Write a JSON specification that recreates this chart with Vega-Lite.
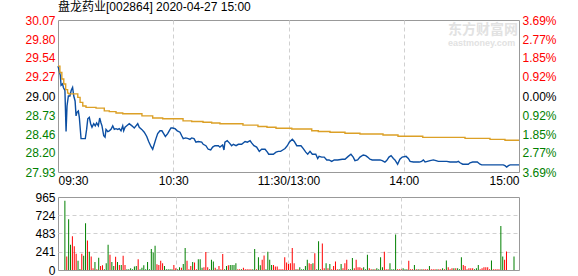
{
 "$schema": "https://vega.github.io/schema/vega-lite/v6.json",
 "padding": {"left": 24, "top": 0, "right": 5, "bottom": 0},
 "background": "white",
 "spacing": 3,
 "config": {
   "view": {"stroke": "#999999", "strokeWidth": 1},
   "font": "Liberation Sans, Noto Sans CJK SC",
   "axis": {"labelFont": "Liberation Sans", "labelFontSize": 12, "ticks": false, "domain": false, "title": null, "gridColor": "#d0d0d0", "gridDash": [4, 3], "labelPadding": 3, "labelOverlap": false}
 },
 "vconcat": [
  {
   "width": 461,
   "height": 152,
   "title": {"text": "盘龙药业[002864] 2020-04-27 15:00", "anchor": "start", "frame": "group", "fontSize": 12, "fontWeight": "normal", "font": "Liberation Sans, Noto Sans CJK SC", "color": "#000000", "offset": 0},
   "layer": [
     {
       "data": {"values": [{"m": 203, "p": 29.93, "t": "东方财富网"}]},
       "mark": {"type": "text", "align": "left", "baseline": "middle", "fontSize": 14, "fontWeight": "bold", "color": "#e2e2e2", "font": "Noto Sans CJK SC"},
       "encoding": {
         "x": {"field": "m", "type": "quantitative", "scale": {"domain": [0, 240]}, "axis": {"values": [0, 60, 120, 180, 240], "labelExpr": "datum.value==0?'09:30':datum.value==60?'10:30':datum.value==120?'11:30/13:00':datum.value==180?'14:00':'15:00'", "labelFlush": true, "labelColor": "#000000", "gridOpacity": {"condition": {"test": "datum.value==0||datum.value==240", "value": 0}, "value": 1}}},
         "y": {"field": "p", "type": "quantitative", "scale": {"domain": [27.93, 30.07], "zero": false}, "axis": null},
         "text": {"field": "t"}
       }
     },
     {
       "data": {"values": [{"m": 203, "p": 29.75, "t": "eastmoney.com"}]},
       "mark": {"type": "text", "align": "left", "baseline": "middle", "fontSize": 9, "fontWeight": "bold", "color": "#e2e2e2"},
       "encoding": {
         "x": {"field": "m", "type": "quantitative", "scale": {"domain": [0, 240]}, "axis": {"values": [0, 60, 120, 180, 240], "labelExpr": "datum.value==0?'09:30':datum.value==60?'10:30':datum.value==120?'11:30/13:00':datum.value==180?'14:00':'15:00'", "labelFlush": true, "labelColor": "#000000", "gridOpacity": {"condition": {"test": "datum.value==0||datum.value==240", "value": 0}, "value": 1}}},
         "y": {"field": "p", "type": "quantitative", "scale": {"domain": [27.93, 30.07], "zero": false}, "axis": null},
         "text": {"field": "t"}
       }
     },
     {
       "data": {"values": [
{"m":0,"p":29.42},{"m":1.2,"p":29.29},{"m":1.6,"p":29.15},{"m":2.4,"p":29.17},{"m":2.8,"p":29.12},{"m":3.6,"p":29.08},{"m":4.2,"p":28.50},{"m":4.7,"p":28.86},{"m":5.4,"p":29.00},{"m":6.2,"p":29.00},{"m":6.9,"p":29.08},{"m":7.6,"p":29.12},{"m":8.2,"p":29.00},{"m":8.9,"p":28.93},{"m":9.4,"p":28.72},{"m":9.9,"p":28.77},{"m":10.6,"p":28.79},{"m":11.1,"p":28.70},{"m":12.0,"p":28.40},{"m":14.2,"p":28.40},{"m":14.9,"p":28.53},{"m":15.5,"p":28.68},{"m":16.3,"p":28.70},{"m":17.0,"p":28.61},{"m":17.7,"p":28.56},{"m":18.6,"p":28.61},{"m":19.4,"p":28.58},{"m":20.1,"p":28.62},{"m":21.0,"p":28.58},{"m":21.7,"p":28.69},{"m":22.4,"p":28.62},{"m":22.9,"p":28.58},{"m":23.8,"p":28.44},{"m":24.5,"p":28.42},{"m":25.0,"p":28.53},{"m":25.9,"p":28.50},{"m":26.7,"p":28.51},{"m":27.6,"p":28.53},{"m":28.5,"p":28.58},{"m":29.3,"p":28.53},{"m":30.2,"p":28.54},{"m":31.1,"p":28.53},{"m":31.9,"p":28.54},{"m":32.8,"p":28.51},{"m":33.7,"p":28.58},{"m":34.2,"p":28.51},{"m":34.9,"p":28.56},{"m":35.8,"p":28.58},{"m":37.1,"p":28.61},{"m":38.5,"p":28.58},{"m":39.7,"p":28.55},{"m":40.6,"p":28.58},{"m":41.5,"p":28.61},{"m":42.3,"p":28.56},{"m":43.6,"p":28.53},{"m":44.9,"p":28.49},{"m":46.2,"p":28.43},{"m":47.2,"p":28.36},{"m":48.4,"p":28.29},{"m":49.3,"p":28.25},{"m":50.1,"p":28.32},{"m":51.0,"p":28.40},{"m":51.9,"p":28.47},{"m":53.1,"p":28.51},{"m":54.1,"p":28.51},{"m":55.0,"p":28.47},{"m":55.9,"p":28.43},{"m":57.1,"p":28.47},{"m":57.9,"p":28.51},{"m":58.8,"p":28.55},{"m":59.7,"p":28.55},{"m":60.9,"p":28.54},{"m":62.1,"p":28.51},{"m":63.5,"p":28.49},{"m":64.4,"p":28.44},{"m":65.2,"p":28.40},{"m":66.5,"p":28.41},{"m":67.8,"p":28.40},{"m":68.7,"p":28.39},{"m":69.6,"p":28.41},{"m":70.8,"p":28.40},{"m":71.8,"p":28.35},{"m":73.0,"p":28.36},{"m":74.8,"p":28.35},{"m":75.6,"p":28.32},{"m":77.0,"p":28.30},{"m":78.2,"p":28.25},{"m":79.5,"p":28.24},{"m":80.5,"p":28.28},{"m":81.7,"p":28.30},{"m":83.5,"p":28.30},{"m":84.3,"p":28.28},{"m":85.7,"p":28.31},{"m":86.4,"p":28.24},{"m":86.9,"p":28.35},{"m":88.1,"p":28.37},{"m":89.2,"p":28.34},{"m":90.4,"p":28.30},{"m":91.3,"p":28.32},{"m":92.7,"p":28.30},{"m":93.9,"p":28.32},{"m":95.6,"p":28.32},{"m":97.4,"p":28.36},{"m":98.6,"p":28.35},{"m":100.0,"p":28.37},{"m":100.8,"p":28.34},{"m":102.0,"p":28.30},{"m":103.4,"p":28.28},{"m":104.8,"p":28.22},{"m":106.0,"p":28.25},{"m":107.8,"p":28.25},{"m":109.0,"p":28.21},{"m":109.7,"p":28.18},{"m":112.1,"p":28.18},{"m":113.5,"p":28.21},{"m":114.7,"p":28.22},{"m":115.9,"p":28.22},{"m":117.0,"p":28.24},{"m":118.2,"p":28.26},{"m":119.4,"p":28.30},{"m":120.4,"p":28.35},{"m":122.0,"p":28.39},{"m":123.0,"p":28.36},{"m":124.3,"p":28.30},{"m":126.5,"p":28.30},{"m":127.7,"p":28.26},{"m":129.0,"p":28.21},{"m":130.0,"p":28.18},{"m":131.2,"p":28.22},{"m":132.4,"p":28.18},{"m":134.2,"p":28.18},{"m":135.2,"p":28.12},{"m":135.9,"p":28.15},{"m":137.3,"p":28.14},{"m":138.6,"p":28.14},{"m":139.9,"p":28.10},{"m":141.1,"p":28.10},{"m":142.5,"p":28.08},{"m":143.8,"p":28.10},{"m":145.6,"p":28.10},{"m":148.0,"p":28.11},{"m":149.4,"p":28.11},{"m":151.1,"p":28.15},{"m":152.5,"p":28.18},{"m":153.7,"p":28.14},{"m":154.6,"p":28.09},{"m":156.0,"p":28.10},{"m":157.2,"p":28.14},{"m":158.9,"p":28.17},{"m":160.2,"p":28.16},{"m":161.2,"p":28.14},{"m":162.4,"p":28.11},{"m":163.6,"p":28.10},{"m":165.4,"p":28.10},{"m":166.4,"p":28.10},{"m":167.6,"p":28.10},{"m":168.8,"p":28.09},{"m":170.2,"p":28.07},{"m":171.1,"p":28.09},{"m":172.3,"p":28.14},{"m":173.4,"p":28.16},{"m":174.6,"p":28.12},{"m":175.4,"p":28.10},{"m":176.8,"p":28.04},{"m":178.0,"p":28.11},{"m":179.2,"p":28.14},{"m":181.2,"p":28.15},{"m":182.4,"p":28.12},{"m":183.3,"p":28.08},{"m":185.0,"p":28.07},{"m":186.7,"p":28.07},{"m":188.1,"p":28.07},{"m":189.3,"p":28.08},{"m":190.2,"p":28.10},{"m":191.1,"p":28.07},{"m":192.3,"p":28.08},{"m":193.7,"p":28.09},{"m":195.4,"p":28.10},{"m":196.8,"p":28.09},{"m":198.0,"p":28.08},{"m":199.8,"p":28.08},{"m":200.6,"p":28.08},{"m":202.4,"p":28.08},{"m":204.1,"p":28.07},{"m":205.8,"p":28.07},{"m":207.6,"p":28.07},{"m":208.4,"p":28.08},{"m":209.3,"p":28.06},{"m":210.7,"p":28.04},{"m":213.6,"p":28.04},{"m":214.5,"p":28.06},{"m":215.9,"p":28.07},{"m":218.3,"p":28.07},{"m":219.7,"p":28.04},{"m":220.6,"p":28.03},{"m":222.3,"p":28.03},{"m":231.8,"p":28.03},{"m":232.7,"p":28.02},{"m":233.6,"p":28.00},{"m":234.5,"p":28.02},{"m":235.4,"p":28.03},{"m":238.8,"p":28.03},{"m":240,"p":28.03}
       ]},
       "mark": {"type": "line", "color": "#0b4ea2", "strokeWidth": 1.4},
       "encoding": {
         "x": {"field": "m", "type": "quantitative", "scale": {"domain": [0, 240]}, "axis": {"values": [0, 60, 120, 180, 240], "labelExpr": "datum.value==0?'09:30':datum.value==60?'10:30':datum.value==120?'11:30/13:00':datum.value==180?'14:00':'15:00'", "labelFlush": true, "labelColor": "#000000", "gridOpacity": {"condition": {"test": "datum.value==0||datum.value==240", "value": 0}, "value": 1}}},
         "y": {"field": "p", "type": "quantitative", "scale": {"domain": [27.93, 30.07], "zero": false}, "axis": {"orient": "left", "values": [27.93, 28.20, 28.46, 28.73, 29.00, 29.27, 29.54, 29.80, 30.07], "format": ".2f", "labelColor": {"condition": [{"test": "datum.value>29.001", "value": "#ff0000"}, {"test": "datum.value<28.999", "value": "#008000"}], "value": "#000000"}, "gridOpacity": {"condition": {"test": "datum.value<27.94||datum.value>30.06", "value": 0}, "value": 1}}}
       }
     },
     {
       "data": {"values": [
{"m":0,"a":29.42},{"m":1,"a":29.33},{"m":2,"a":29.24},{"m":3,"a":29.17},{"m":4,"a":29.09},{"m":5,"a":29.04},{"m":5.6,"a":29.03},{"m":10.3,"a":28.98},{"m":11.5,"a":28.91},{"m":12.9,"a":28.86},{"m":14.6,"a":28.84},{"m":19.8,"a":28.83},{"m":24.1,"a":28.79},{"m":26.7,"a":28.78},{"m":30.2,"a":28.76},{"m":33.7,"a":28.75},{"m":43.7,"a":28.72},{"m":49.3,"a":28.69},{"m":54.5,"a":28.68},{"m":65.1,"a":28.65},{"m":69.6,"a":28.64},{"m":75.5,"a":28.63},{"m":80.0,"a":28.62},{"m":84.3,"a":28.61},{"m":96.3,"a":28.59},{"m":104.1,"a":28.57},{"m":108.8,"a":28.56},{"m":113.5,"a":28.545},{"m":121.7,"a":28.535},{"m":132.1,"a":28.51},{"m":135.5,"a":28.50},{"m":141.6,"a":28.49},{"m":149.4,"a":28.475},{"m":157.2,"a":28.465},{"m":169.2,"a":28.45},{"m":177,"a":28.433},{"m":189.9,"a":28.418},{"m":211.9,"a":28.404},{"m":224.9,"a":28.39},{"m":232.7,"a":28.376},{"m":240,"a":28.376}
       ]},
       "mark": {"type": "line", "color": "#dca026", "strokeWidth": 1.4, "interpolate": "step-after"},
       "encoding": {
         "x": {"field": "m", "type": "quantitative", "scale": {"domain": [0, 240]}, "axis": {"values": [0, 60, 120, 180, 240], "labelExpr": "datum.value==0?'09:30':datum.value==60?'10:30':datum.value==120?'11:30/13:00':datum.value==180?'14:00':'15:00'", "labelFlush": true, "labelColor": "#000000", "gridOpacity": {"condition": {"test": "datum.value==0||datum.value==240", "value": 0}, "value": 1}}},
         "y": {"field": "a", "type": "quantitative", "scale": {"domain": [27.93, 30.07], "zero": false}, "axis": {"orient": "right", "grid": false, "values": [27.93, 28.20, 28.46, 28.73, 29.00, 29.27, 29.54, 29.80, 30.07], "labelExpr": "format(abs(round((datum.value-29)/0.2675))*0.9225+0.00001, '.2f') + '%'", "labelColor": {"condition": [{"test": "datum.value>29.001", "value": "#ff0000"}, {"test": "datum.value<28.999", "value": "#008000"}], "value": "#000000"}}}
       }
     }
   ],
   "resolve": {"axis": {"y": "independent"}}
  },
  {
   "width": 461,
   "height": 73,
   "data": {"values": [
{"m":1,"v":916,"d":"g"},{"m":2,"v":179,"d":"r"},{"m":3,"v":670,"d":"g"},{"m":4,"v":335,"d":"g"},{"m":5,"v":447,"d":"r"},{"m":6,"v":313,"d":"r"},{"m":7,"v":215,"d":"r"},{"m":8,"v":121,"d":"g"},{"m":9,"v":13,"d":"g"},{"m":10,"v":215,"d":"r"},{"m":11,"v":188,"d":"g"},{"m":12,"v":617,"d":"g"},{"m":13,"v":389,"d":"r"},{"m":14,"v":241,"d":"g"},{"m":15,"v":179,"d":"r"},{"m":16,"v":22,"d":"r"},{"m":17,"v":107,"d":"g"},{"m":18,"v":9,"d":"r"},{"m":19,"v":161,"d":"g"},{"m":20,"v":54,"d":"r"},{"m":21,"v":63,"d":"r"},{"m":22,"v":9,"d":"g"},{"m":23,"v":89,"d":"g"},{"m":24,"v":335,"d":"g"},{"m":25,"v":201,"d":"r"},{"m":26,"v":107,"d":"g"},{"m":27,"v":54,"d":"g"},{"m":28,"v":174,"d":"r"},{"m":29,"v":107,"d":"g"},{"m":30,"v":67,"d":"r"},{"m":31,"v":67,"d":"g"},{"m":32,"v":188,"d":"r"},{"m":33,"v":67,"d":"r"},{"m":34,"v":9,"d":"g"},{"m":35,"v":9,"d":"g"},{"m":36,"v":22,"d":"g"},{"m":37,"v":9,"d":"g"},{"m":38,"v":45,"d":"g"},{"m":39,"v":54,"d":"g"},{"m":40,"v":143,"d":"r"},{"m":41,"v":9,"d":"g"},{"m":42,"v":31,"d":"g"},{"m":43,"v":63,"d":"g"},{"m":44,"v":9,"d":"g"},{"m":45,"v":107,"d":"g"},{"m":46,"v":9,"d":"g"},{"m":47,"v":277,"d":"g"},{"m":48,"v":232,"d":"g"},{"m":49,"v":322,"d":"g"},{"m":50,"v":76,"d":"r"},{"m":51,"v":67,"d":"r"},{"m":52,"v":121,"d":"r"},{"m":53,"v":89,"d":"r"},{"m":54,"v":54,"d":"g"},{"m":55,"v":9,"d":"g"},{"m":56,"v":9,"d":"g"},{"m":57,"v":9,"d":"g"},{"m":58,"v":9,"d":"g"},{"m":59,"v":67,"d":"r"},{"m":60,"v":22,"d":"r"},{"m":61,"v":9,"d":"g"},{"m":62,"v":36,"d":"g"},{"m":63,"v":31,"d":"r"},{"m":64,"v":80,"d":"g"},{"m":65,"v":290,"d":"g"},{"m":66,"v":121,"d":"r"},{"m":67,"v":9,"d":"r"},{"m":68,"v":54,"d":"r"},{"m":69,"v":107,"d":"g"},{"m":70,"v":98,"d":"r"},{"m":71,"v":9,"d":"r"},{"m":72,"v":143,"d":"g"},{"m":73,"v":143,"d":"g"},{"m":74,"v":31,"d":"g"},{"m":75,"v":36,"d":"r"},{"m":76,"v":237,"d":"r"},{"m":77,"v":36,"d":"r"},{"m":78,"v":9,"d":"g"},{"m":79,"v":134,"d":"g"},{"m":80,"v":112,"d":"g"},{"m":81,"v":31,"d":"r"},{"m":82,"v":9,"d":"g"},{"m":83,"v":54,"d":"r"},{"m":84,"v":9,"d":"r"},{"m":85,"v":210,"d":"r"},{"m":86,"v":9,"d":"g"},{"m":87,"v":54,"d":"g"},{"m":88,"v":63,"d":"r"},{"m":89,"v":67,"d":"g"},{"m":90,"v":67,"d":"g"},{"m":91,"v":67,"d":"g"},{"m":92,"v":89,"d":"g"},{"m":93,"v":9,"d":"r"},{"m":94,"v":9,"d":"r"},{"m":95,"v":9,"d":"g"},{"m":96,"v":31,"d":"r"},{"m":97,"v":9,"d":"r"},{"m":98,"v":9,"d":"r"},{"m":99,"v":9,"d":"r"},{"m":100,"v":9,"d":"r"},{"m":101,"v":9,"d":"g"},{"m":102,"v":277,"d":"g"},{"m":103,"v":9,"d":"r"},{"m":104,"v":170,"d":"g"},{"m":105,"v":63,"d":"g"},{"m":106,"v":134,"d":"r"},{"m":107,"v":192,"d":"r"},{"m":108,"v":9,"d":"g"},{"m":109,"v":241,"d":"g"},{"m":110,"v":134,"d":"g"},{"m":111,"v":67,"d":"g"},{"m":112,"v":67,"d":"r"},{"m":113,"v":45,"d":"r"},{"m":114,"v":45,"d":"r"},{"m":115,"v":9,"d":"r"},{"m":116,"v":9,"d":"r"},{"m":117,"v":9,"d":"r"},{"m":118,"v":170,"d":"r"},{"m":119,"v":98,"d":"r"},{"m":120,"v":80,"d":"r"},{"m":121,"v":89,"d":"r"},{"m":122,"v":290,"d":"r"},{"m":123,"v":89,"d":"r"},{"m":124,"v":9,"d":"g"},{"m":125,"v":9,"d":"r"},{"m":126,"v":36,"d":"g"},
{"m":127,"v":9,"d":"g"},{"m":128,"v":9,"d":"g"},{"m":129,"v":54,"d":"g"},{"m":130,"v":134,"d":"g"},{"m":131,"v":89,"d":"r"},{"m":132,"v":80,"d":"r"},{"m":133,"v":89,"d":"g"},{"m":134,"v":223,"d":"r"},{"m":135,"v":9,"d":"g"},{"m":136,"v":380,"d":"g"},{"m":137,"v":9,"d":"g"},{"m":138,"v":349,"d":"r"},{"m":139,"v":22,"d":"r"},{"m":140,"v":89,"d":"g"},{"m":141,"v":22,"d":"r"},{"m":142,"v":80,"d":"g"},{"m":143,"v":9,"d":"r"},{"m":144,"v":54,"d":"r"},{"m":145,"v":112,"d":"r"},{"m":146,"v":9,"d":"r"},{"m":147,"v":9,"d":"g"},{"m":148,"v":80,"d":"g"},{"m":149,"v":22,"d":"r"},{"m":150,"v":89,"d":"r"},{"m":151,"v":134,"d":"r"},{"m":152,"v":9,"d":"g"},{"m":153,"v":9,"d":"g"},{"m":154,"v":157,"d":"g"},{"m":155,"v":22,"d":"r"},{"m":156,"v":134,"d":"r"},{"m":157,"v":36,"d":"r"},{"m":158,"v":36,"d":"r"},{"m":159,"v":22,"d":"r"},{"m":160,"v":36,"d":"g"},{"m":161,"v":9,"d":"g"},{"m":162,"v":201,"d":"g"},{"m":163,"v":22,"d":"r"},{"m":164,"v":9,"d":"r"},{"m":165,"v":9,"d":"g"},{"m":166,"v":9,"d":"r"},{"m":167,"v":22,"d":"g"},{"m":168,"v":9,"d":"g"},{"m":169,"v":170,"d":"g"},{"m":170,"v":36,"d":"g"},{"m":171,"v":241,"d":"r"},{"m":172,"v":9,"d":"r"},{"m":173,"v":9,"d":"r"},{"m":174,"v":89,"d":"g"},{"m":175,"v":9,"d":"g"},{"m":176,"v":9,"d":"g"},{"m":177,"v":469,"d":"g"},{"m":178,"v":9,"d":"r"},{"m":179,"v":9,"d":"r"},{"m":180,"v":9,"d":"r"},{"m":181,"v":22,"d":"g"},{"m":182,"v":9,"d":"g"},{"m":183,"v":9,"d":"g"},{"m":184,"v":121,"d":"r"},{"m":185,"v":9,"d":"r"},{"m":186,"v":9,"d":"r"},{"m":187,"v":67,"d":"g"},{"m":188,"v":9,"d":"r"},{"m":189,"v":9,"d":"g"},{"m":190,"v":9,"d":"r"},{"m":191,"v":9,"d":"g"},{"m":192,"v":9,"d":"r"},{"m":193,"v":9,"d":"r"},{"m":194,"v":9,"d":"r"},{"m":195,"v":54,"d":"g"},{"m":196,"v":9,"d":"r"},{"m":197,"v":9,"d":"r"},{"m":198,"v":9,"d":"r"},{"m":199,"v":9,"d":"g"},{"m":200,"v":9,"d":"r"},{"m":201,"v":9,"d":"r"},{"m":202,"v":22,"d":"g"},{"m":203,"v":9,"d":"r"},{"m":204,"v":125,"d":"g"},{"m":205,"v":36,"d":"r"},{"m":206,"v":9,"d":"r"},{"m":207,"v":22,"d":"r"},{"m":208,"v":22,"d":"g"},{"m":209,"v":22,"d":"r"},{"m":210,"v":22,"d":"g"},{"m":211,"v":9,"d":"g"},{"m":212,"v":170,"d":"g"},{"m":213,"v":67,"d":"r"},{"m":214,"v":54,"d":"r"},{"m":215,"v":9,"d":"r"},{"m":216,"v":22,"d":"r"},{"m":217,"v":22,"d":"r"},{"m":218,"v":22,"d":"r"},{"m":219,"v":9,"d":"g"},{"m":220,"v":22,"d":"g"},{"m":221,"v":67,"d":"g"},{"m":222,"v":9,"d":"r"},{"m":223,"v":22,"d":"r"},{"m":224,"v":36,"d":"r"},{"m":225,"v":36,"d":"r"},{"m":226,"v":36,"d":"r"},{"m":227,"v":9,"d":"r"},{"m":228,"v":125,"d":"g"},{"m":229,"v":9,"d":"r"},{"m":230,"v":9,"d":"r"},{"m":231,"v":9,"d":"r"},{"m":232,"v":9,"d":"r"},{"m":233,"v":581,"d":"g"},{"m":234,"v":179,"d":"g"},{"m":235,"v":134,"d":"r"},{"m":236,"v":246,"d":"r"},{"m":240,"v":179,"d":"g"}
   ]},
   "mark": {"type": "bar", "width": 1, "orient": "vertical"},
   "encoding": {
     "x": {"field": "m", "type": "quantitative", "scale": {"domain": [0, 240]}, "axis": {"values": [0, 60, 120, 180, 240], "labels": false, "gridOpacity": {"condition": {"test": "datum.value==0||datum.value==240", "value": 0}, "value": 1}}},
     "y": {"field": "v", "type": "quantitative", "scale": {"domain": [0, 965]}, "axis": {"values": [0, 241, 483, 724, 965], "labelColor": "#000000", "gridOpacity": {"condition": {"test": "datum.value==0||datum.value==965", "value": 0}, "value": 1}}},
     "color": {"field": "d", "type": "nominal", "scale": {"domain": ["r", "g"], "range": ["#ff0000", "#008000"]}, "legend": null}
   }
  }
 ]
}
